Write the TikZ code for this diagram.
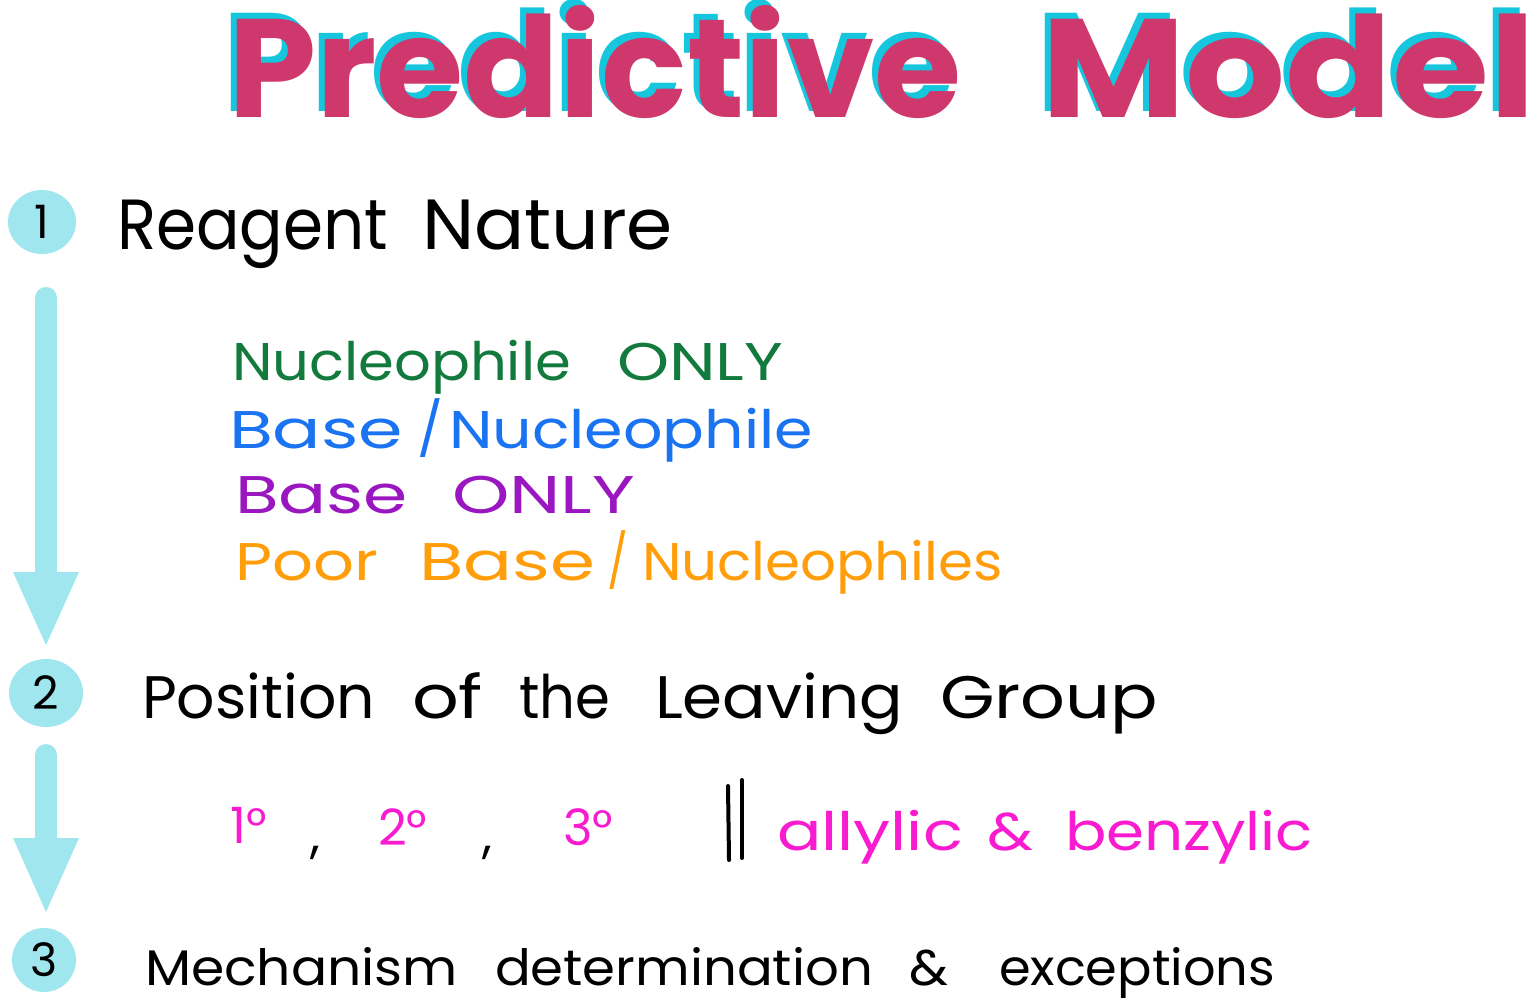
\documentclass[tikz,border=0pt]{standalone}
\usepackage{fontspec}
\setmainfont{Poppins}
\definecolor{titlepink}{HTML}{CF386C}
\definecolor{titlecyan}{HTML}{16C6DD}
\definecolor{lightcyan}{HTML}{A0E6EF}
\definecolor{nucgreen}{HTML}{137A3E}
\definecolor{bnblue}{HTML}{1A73F0}
\definecolor{bpurple}{HTML}{9A16C0}
\definecolor{porange}{HTML}{FF9E0A}
\definecolor{posmag}{HTML}{F81BD0}
\newcommand\fitw[2]{\resizebox{#1}{\height}{#2}}
\newcommand\titlewords{\fitw{734pt}{Predictive}\hspace{79pt}\fitw{495pt}{Model}}
\tikzset{
  txt/.style={anchor=base west, inner sep=0pt, outer sep=0pt},
  stepdot/.style={fill=lightcyan, draw=none},
  numtxt/.style={inner sep=0pt, font=\fontsize{46}{50}\selectfont},
  shaft/.style={draw=lightcyan, line width=22pt, line cap=round},
  headtri/.style={fill=lightcyan, draw=none},
  bigf/.style={font=\fontsize{71}{80}\selectfont},
  midf/.style={font=\fontsize{53}{60}\selectfont},
  posf/.style={font=\fontsize{60}{70}\selectfont},
  smallf/.style={font=\fontsize{50}{60}\selectfont},
}
\begin{document}
\begin{tikzpicture}[x=1pt,y=-1pt]
\useasboundingbox (0,0) rectangle (1536,1000);
% title with offset cyan shadow
\node[txt, font=\fontsize{140}{150}\bfseries] (title) at (228,118)
  {\rlap{\hspace*{-6pt}\raisebox{6pt}{\color{titlecyan}\titlewords}}{\color{titlepink}\titlewords}};
% step markers
\fill[stepdot] (42,222) ellipse [x radius=34, y radius=32];
\node[numtxt] (n1) at (42,222) {1};
\fill[stepdot] (46,693) ellipse [x radius=37, y radius=34];
\node[numtxt] (n2) at (46,693) {2};
\fill[stepdot] (44,960) ellipse [x radius=32, y radius=32];
\node[numtxt] (n3) at (44,960) {3};
% arrows
\coordinate (a1s) at (46,298);
\coordinate (a1e) at (46,578);
\draw[shaft] (a1s) -- (a1e);
\fill[headtri] (13,572) -- (79,572) -- (46,645) -- cycle;
\coordinate (a2s) at (46,755);
\coordinate (a2e) at (46,842);
\draw[shaft] (a2s) -- (a2e);
\fill[headtri] (13,838) -- (79,838) -- (46,912) -- cycle;
% step 1
\node[txt, bigf] (reagent) at (117,250)
  {\fitw{271pt}{Reagent}\hspace{34pt}\fitw{251pt}{Nature}};
\node[txt, midf, text=nucgreen] (nuc) at (232,380)
  {\fitw{339pt}{Nucleophile}\hspace{46pt}\fitw{166pt}{ONLY}};
\node[txt, midf, text=bnblue] (bn) at (229,448)
  {\fitw{174pt}{Base}\hspace{14pt}\fitw{26pt}{/}\hspace{6pt}\fitw{364pt}{Nucleophile}};
\node[txt, midf, text=bpurple] (bo) at (235,513)
  {\fitw{173pt}{Base}\hspace{44pt}\fitw{183pt}{ONLY}};
\node[txt, midf, text=porange] (pb) at (235,580)
  {\fitw{143pt}{Poor}\hspace{41pt}\fitw{176pt}{Base}\hspace{12pt}\fitw{21pt}{/}\hspace{14pt}\fitw{361pt}{Nucleophiles}};
% step 2
\node[txt, posf] (pos) at (142,718)
  {\fitw{233pt}{Position}\hspace{37pt}\fitw{71pt}{of}\hspace{36pt}\fitw{91pt}{the}\hspace{45pt}\fitw{248pt}{Leaving}\hspace{37pt}\fitw{218pt}{Group}};
\node[txt, smallf, text=posmag] (p1) at (230,843) {1°};
\node[txt, smallf] (c1) at (310,852) {,};
\node[txt, smallf, text=posmag] (p2) at (378,845) {2°};
\node[txt, smallf] (c2) at (482,852) {,};
\node[txt, smallf, text=posmag] (p3) at (563,845) {3°};
\coordinate (bar1t) at (728,786);
\coordinate (bar1b) at (729,860);
\coordinate (bar2t) at (742,780);
\coordinate (bar2b) at (742,858);
\draw[line width=4pt, line cap=round] (bar1t) -- (bar1b);
\draw[line width=4pt, line cap=round] (bar2t) -- (bar2b);
\node[txt, midf, text=posmag] (allyl) at (777,850)
  {\fitw{186pt}{allylic}\hspace{24pt}\fitw{46pt}{\&}\hspace{32pt}\fitw{248pt}{benzylic}};
% step 3
\node[txt, smallf] (mech) at (145,985)
  {\fitw{313pt}{Mechanism}\hspace{37pt}\fitw{378pt}{determination}\hspace{36pt}\fitw{39pt}{\&}\hspace{51pt}\fitw{276pt}{exceptions}};
\end{tikzpicture}
\end{document}
